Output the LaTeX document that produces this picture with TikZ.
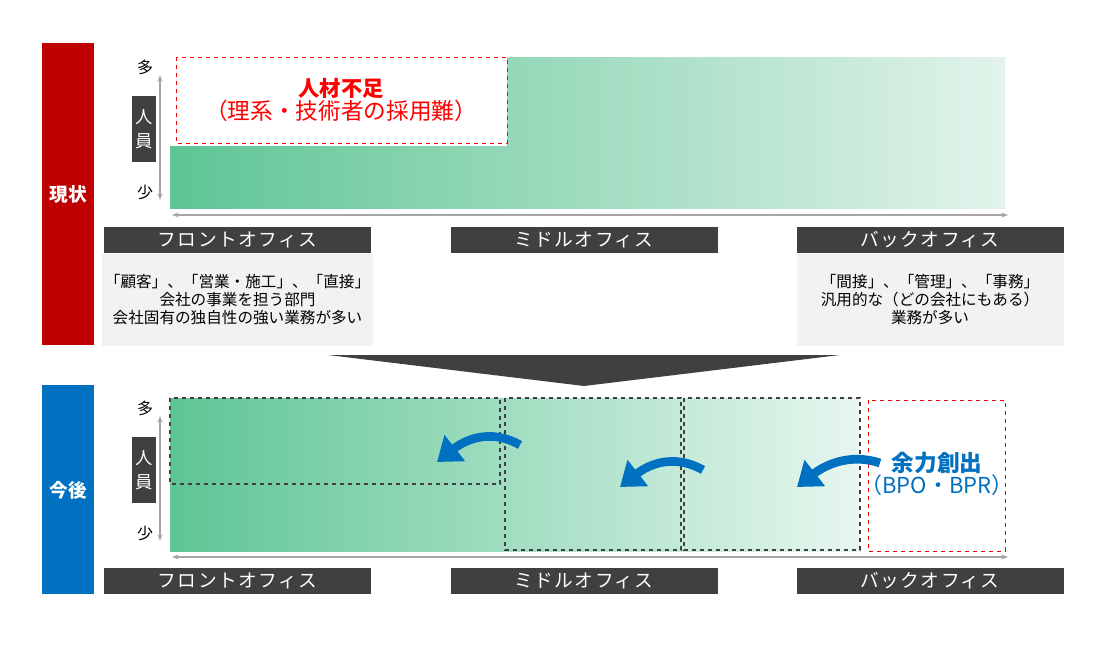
\documentclass[tikz,border=0pt]{standalone}
\usepackage{fontspec}
\setmainfont{Noto Sans CJK JP}
\usetikzlibrary{positioning,arrows.meta,calc}
\definecolor{dgray}{HTML}{404040}
\definecolor{lgray}{HTML}{F2F2F2}
\definecolor{sred}{HTML}{C00000}
\definecolor{sblue}{HTML}{0070C0}
\definecolor{gleft}{HTML}{5EC595}
\definecolor{gright}{HTML}{E2F3EB}
\tikzstyle{sidebar}=[rectangle, inner sep=0pt, text=white, font=\bfseries\fontsize{14}{15}\selectfont]
\tikzstyle{tabbox}=[rectangle, fill=dgray, text=white, minimum width=200.25pt, minimum height=19.5pt, inner sep=0pt, font=\addfontfeatures{LetterSpace=8}\fontsize{14}{15}\selectfont]
\tikzstyle{notebox}=[rectangle, fill=lgray, minimum width=200.25pt, minimum height=69pt, inner sep=2pt, align=center, font=\fontsize{11.7}{13.5}\selectfont]
\tikzstyle{axis}=[{Stealth[length=5pt]}-{Stealth[length=5pt]}, gray!70, line width=1.5pt]
\tikzstyle{ppl}=[rectangle, fill=dgray, text=white, minimum width=18pt, minimum height=49.5pt, inner sep=0pt, align=center, font=\fontsize{13}{18}\selectfont]
\tikzstyle{dbox}=[draw=dgray, dashed, line width=1pt]
\tikzstyle{rbox}=[draw=red, dashed, thin, fill=white]
\tikzstyle{barrow}=[-{Triangle[length=17pt,width=24pt]}, sblue, line width=6.5pt]
\newcommand\axislabels[2]{
    \node (#1m) at (145,#2) {\fontsize{12}{14}\selectfont 多};
    \node (#1s) at (145,#2+125) {\fontsize{12}{14}\selectfont 少};
    \node (#1p) [ppl] at (144,#2+62) {人\\員};
    \draw[axis] (160,#2+8) -- (160,#2+133);
}
\begin{document}
\begin{tikzpicture}[x=0.75pt,y=-0.75pt]
\useasboundingbox (0,0) rectangle (1100,650);

%now
\fill[sred] (42,43) rectangle (94,345);
\node (now) [sidebar] at (68,194) {現状};
\shade[left color=gleft, right color=gright] (170,57) rectangle (1005,208);
\fill[white] (170,57) rectangle (507,146);
\draw[rbox] (176,57) rectangle (507,143);
\node (lack) [align=center, text=red] at (341,100) {{\bfseries\fontsize{16}{22}\selectfont 人材不足}\\{\fontsize{17}{22}\selectfont （理系・技術者の採用難）}};
\axislabels{a}{67}
\draw[axis] (172,215) -- (1008,215);

\node (front) [tabbox] at (237.5,240) {フロントオフィス};
\node (middle) [tabbox] at (584,240) {ミドルオフィス};
\node (back) [tabbox] at (930,240) {バックオフィス};
\node (frontnote) [notebox, below=0pt of front] {「顧客」、「営業・施工」、「直接」\\会社の事業を担う部門\\会社固有の独自性の強い業務が多い};
\node (backnote) [notebox, below=0pt of back] {「間接」、「管理」、「事務」\\汎用的な（どの会社にもある）\\業務が多い};

\fill[dgray] (328,355) -- (840,355) -- (584,386) -- cycle;

%future
\fill[sblue] (42,385) rectangle (94,594);
\node (future) [sidebar] at (68,490) {今後};
\shade[left color=gleft, right color=gleft!15] (170,398) rectangle (860,551);
\draw[dbox] (170,398) rectangle (500,484);
\draw[dbox] (505,398) rectangle (681,550);
\draw[dbox] (684,398) rectangle (860,550);
\draw[rbox] (868,400) rectangle (1005,551);
\node (spare) [align=center, text=sblue] at (937,474) {{\bfseries\fontsize{17}{22}\selectfont 余力創出}\\{\fontsize{16.5}{22}\selectfont （BPO・BPR）}};
\axislabels{b}{408}
\draw[axis] (172,557) -- (1008,557);

\coordinate (s1) at (520,445); \coordinate (e1) at (437,462);
\coordinate (s2) at (703,470); \coordinate (e2) at (620,487);
\coordinate (s3) at (880,463); \coordinate (e3) at (797,487);
\draw[barrow] (s1) .. controls (490,428) and (465,440) .. (e1);
\draw[barrow] (s2) .. controls (673,453) and (648,465) .. (e2);
\draw[barrow] (s3) .. controls (850,453) and (825,465) .. (e3);

\node (front2) [tabbox] at (237.5,581) {フロントオフィス};
\node (middle2) [tabbox] at (584,581) {ミドルオフィス};
\node (back2) [tabbox] at (930,581) {バックオフィス};
\end{tikzpicture}
\end{document}
